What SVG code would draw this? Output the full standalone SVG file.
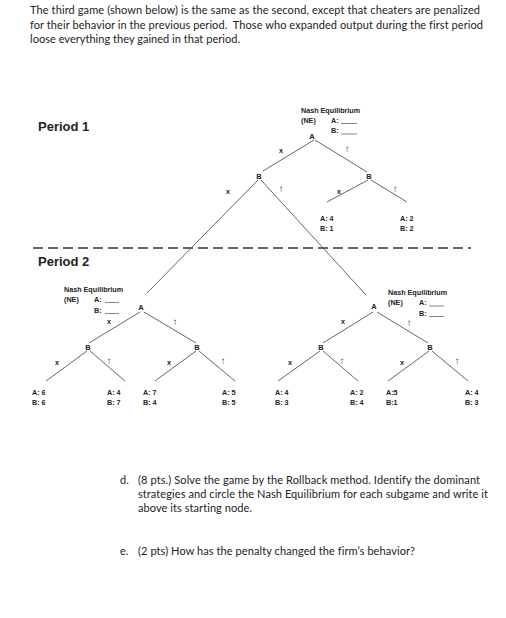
<svg xmlns="http://www.w3.org/2000/svg" width="506" height="618" viewBox="0 0 506 618">
<style>
.hdr{font-family:Lato,"Liberation Sans",sans-serif;font-size:11px;fill:#222;font-variant-ligatures:none}
.per{font-family:"Liberation Sans",Arial,sans-serif;font-weight:bold;font-size:13px;fill:#222}
.sm{font-family:"Liberation Sans",Arial,sans-serif;font-weight:bold;font-size:7.2px;fill:#222}
.nd{font-family:"Liberation Sans",Arial,sans-serif;font-weight:bold;font-size:7.5px;fill:#222;text-anchor:middle}
.xl{font-family:"Liberation Sans",Arial,sans-serif;font-weight:bold;font-size:7.2px;fill:#222;text-anchor:middle}
.ar{font-family:"Liberation Sans",Arial,sans-serif;font-weight:bold;font-size:9.5px;fill:#222;text-anchor:middle}
.edge{stroke:#555;stroke-width:0.9;fill:none}
.ul{stroke:#333;stroke-width:0.6}
.dash{stroke:#333;stroke-width:1.3;stroke-dasharray:10 5;fill:none}
</style>
<rect width="506" height="618" fill="#fff"/>
<g id="header">
<text class="hdr" x="30" y="13.5" textLength="450" lengthAdjust="spacing">The third game (shown below) is the same as the second, except that cheaters are penalized</text>
<text class="hdr" x="30" y="28.5" textLength="453" lengthAdjust="spacing">for their behavior in the previous period.&#160; Those who expanded output during the first period</text>
<text class="hdr" x="30" y="43" textLength="210" lengthAdjust="spacing">loose everything they gained in that period.</text>
</g>
<g id="periods">
<text class="per" x="38" y="130.5">Period 1</text>
<text class="per" x="38" y="266">Period 2</text>
<path class="dash" d="M33 248H471"/>
</g>
<g id="connectors">
<path class="edge" d="M314 140L263 171M315 140L367 172"/>
<path class="edge" d="M258 180L147 293M261 180L366 295"/>
<path class="edge" d="M368 180L327 202M371 180L407 202"/>
<path class="edge" d="M140 312L89 343M144 312L196 343"/>
<path class="edge" d="M87 351L46 381M90 351L125 381"/>
<path class="edge" d="M196 351L155 381M199 351L235 381"/>
<path class="edge" d="M373 312L323 343M377 312L428 343"/>
<path class="edge" d="M320 351L278 381M323 351L358 381"/>
<path class="edge" d="M429 351L388 381M432 351L468 381"/>
</g>
<g id="edge-labels">
<text class="xl" x="281" y="153">x</text><text class="ar" x="347" y="152">↑</text>
<text class="xl" x="228" y="194">x</text><text class="ar" x="281" y="192">↑</text>
<text class="xl" x="339" y="193.5">x</text><text class="ar" x="395" y="192">↑</text>
<text class="xl" x="109" y="324">x</text><text class="ar" x="175" y="325">↑</text>
<text class="xl" x="57" y="365">x</text><text class="ar" x="109" y="364">↑</text>
<text class="xl" x="169" y="365">x</text><text class="ar" x="223" y="364">↑</text>
<text class="xl" x="343" y="324">x</text><text class="ar" x="409" y="326">↑</text>
<text class="xl" x="290" y="365">x</text><text class="ar" x="342" y="364">↑</text>
<text class="xl" x="402" y="365">x</text><text class="ar" x="457" y="364">↑</text>
</g>
<g id="node-A-p1"><text class="nd" x="312" y="138.5">A</text></g>
<g id="node-B-p1-left"><text class="nd" x="259" y="178.7">B</text></g>
<g id="node-B-p1-right"><text class="nd" x="369" y="178.7">B</text></g>
<g id="node-A-p2-left"><text class="nd" x="141" y="309.7">A</text></g>
<g id="node-A-p2-right"><text class="nd" x="374" y="308.7">A</text></g>
<g id="node-B-p2-1"><text class="nd" x="88" y="349.7">B</text></g>
<g id="node-B-p2-2"><text class="nd" x="197" y="349.7">B</text></g>
<g id="node-B-p2-3"><text class="nd" x="321" y="349.7">B</text></g>
<g id="node-B-p2-4"><text class="nd" x="430" y="349.7">B</text></g>
<g id="ne-p1">
<text class="sm" x="301" y="112.5">Nash Equilibrium</text>
<text class="sm" x="301" y="122.5">(NE)</text>
<text class="sm" x="331" y="122.5">A:</text><path class="ul" d="M341 123.5H357"/>
<text class="sm" x="331" y="133">B:</text><path class="ul" d="M341 134H357"/>
</g>
<g id="ne-p2-left">
<text class="sm" x="64" y="291.5">Nash Equilibrium</text>
<text class="sm" x="64" y="301.5">(NE)</text>
<text class="sm" x="94" y="301.5">A:</text><path class="ul" d="M105 302.5H119"/>
<text class="sm" x="94" y="312.5">B:</text><path class="ul" d="M105 313.5H119"/>
</g>
<g id="ne-p2-right">
<text class="sm" x="388" y="294.5">Nash Equilibrium</text>
<text class="sm" x="388" y="305">(NE)</text>
<text class="sm" x="419" y="305">A:</text><path class="ul" d="M429 306H444"/>
<text class="sm" x="419" y="315.5">B:</text><path class="ul" d="M429 316.5H444"/>
</g>
<g id="leaf-p1-1"><text class="sm" x="320" y="220.7">A: 4</text><text class="sm" x="320" y="231">B: 1</text></g>
<g id="leaf-p1-2"><text class="sm" x="400" y="220.7">A: 2</text><text class="sm" x="400" y="231">B: 2</text></g>
<g id="leaf-p2-1"><text class="sm" x="32" y="394.7">A: 6</text><text class="sm" x="32" y="404.7">B: 6</text></g>
<g id="leaf-p2-2"><text class="sm" x="107" y="394.7">A: 4</text><text class="sm" x="107" y="404.7">B: 7</text></g>
<g id="leaf-p2-3"><text class="sm" x="143" y="394.7">A: 7</text><text class="sm" x="143" y="404.7">B: 4</text></g>
<g id="leaf-p2-4"><text class="sm" x="222" y="394.7">A: 5</text><text class="sm" x="222" y="404.7">B: 5</text></g>
<g id="leaf-p2-5"><text class="sm" x="275" y="394.7">A: 4</text><text class="sm" x="275" y="404.7">B: 3</text></g>
<g id="leaf-p2-6"><text class="sm" x="350" y="394.7">A: 2</text><text class="sm" x="350" y="404.7">B: 4</text></g>
<g id="leaf-p2-7"><text class="sm" x="386" y="394.7">A:5</text><text class="sm" x="386" y="404.7">B:1</text></g>
<g id="leaf-p2-8"><text class="sm" x="465" y="394.7">A: 4</text><text class="sm" x="465" y="404.7">B: 3</text></g>
<g id="questions">
<text class="hdr" x="120" y="483.5">d.</text>
<text class="hdr" x="138" y="483.5" textLength="342" lengthAdjust="spacing">(8 pts.) Solve the game by the Rollback method. Identify the dominant</text>
<text class="hdr" x="138" y="498" textLength="350" lengthAdjust="spacing">strategies and circle the Nash Equilibrium for each subgame and write it</text>
<text class="hdr" x="138" y="512" textLength="114" lengthAdjust="spacing">above its starting node.</text>
<text class="hdr" x="120" y="554.5">e.</text>
<text class="hdr" x="138" y="554.5" textLength="277" lengthAdjust="spacing">(2 pts) How has the penalty changed the firm’s behavior?</text>
</g>
</svg>
